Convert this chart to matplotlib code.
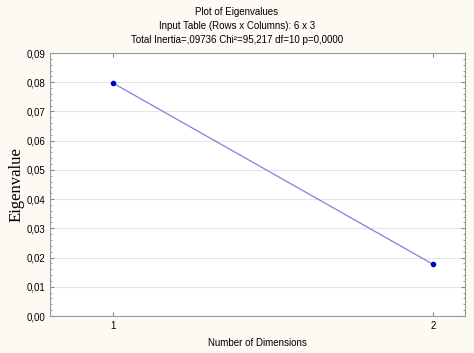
import matplotlib
matplotlib.use("Agg")
import matplotlib.pyplot as plt
from matplotlib.ticker import MultipleLocator, FuncFormatter

dims = [1, 2]
eigenvalues = [0.0797, 0.0177]
title_lines = ["Plot of Eigenvalues",
               "Input Table (Rows x Columns): 6 x 3",
               "Total Inertia=,09736 Chi\u00b2=95,217 df=10 p=0,0000"]

plt.rcParams['font.family'] = ['Liberation Sans', 'DejaVu Sans']
bg = "#fdfaf4"

fig = plt.figure(figsize=(4.74, 3.53), dpi=100, facecolor=bg)
ax = fig.add_axes([0.1055, 0.1048, 0.8755, 0.745])
ax.set_facecolor("white")

ax.plot(dims, eigenvalues, color="#8080e0", lw=0.9, zorder=3)
ax.plot(dims, eigenvalues, "o", color="#0000cc", ms=3, zorder=4)

ax.set_xlim(0.803, 2.1)
ax.set_ylim(0, 0.09)
ax.set_xticks(dims)
ax.yaxis.set_major_locator(MultipleLocator(0.01))
ax.yaxis.set_minor_locator(MultipleLocator(0.002))
ax.yaxis.set_major_formatter(FuncFormatter(lambda v, p: ("%.2f" % v).replace(".", ",")))
ax.grid(axis="y", color="#e6e6e6", lw=0.8, zorder=0)
ax.tick_params(which="both", direction="in", top=True, right=True, labelsize=7, color="#888888")
ax.tick_params(which="major", length=3)
ax.tick_params(which="minor", length=1.5)
for s in ax.spines.values():
    s.set_color("#999999")
    s.set_linewidth(0.8)

ax.set_xlabel("Number of Dimensions", fontsize=7, labelpad=5)
ax.set_ylabel("Eigenvalue", fontsize=12, family="Liberation Serif", labelpad=1)

for i, t in enumerate(title_lines):
    fig.text(0.5, 1 - (12 + 14 * i) / 353, t, ha="center", va="center", fontsize=7)

fig.savefig("out.png", dpi=100, facecolor=bg)
